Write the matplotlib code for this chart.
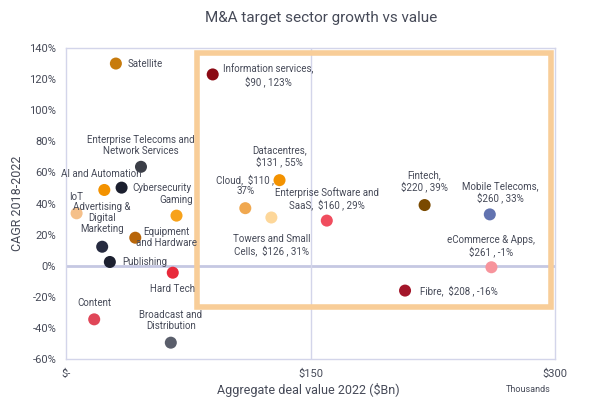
import matplotlib.pyplot as plt
from matplotlib.patches import Rectangle

plt.rcParams['font.family'] = ['Roboto', 'DejaVu Sans']

# sector data: aggregate deal value 2022 ($Bn) and CAGR 2018-2022 (%)
sectors = ['Satellite', 'Information services', 'Enterprise Telecoms',
           'AI and Automation', 'Cybersecurity', 'IoT', 'Gaming',
           'Advertising', 'Equipment', 'Publishing', 'Hard Tech', 'Content',
           'Broadcast', 'Datacentres', 'Cloud', 'Enterprise Software',
           'Towers', 'Fintech', 'Mobile Telecoms', 'eCommerce', 'Fibre']
value = [30.6, 90, 46, 23.5, 34.1, 6.5, 67.8, 22.2, 42.5, 26.9, 65.5, 17.3,
         64.3, 131, 110, 160, 126, 220, 260, 261, 208]
cagr = [130, 123, 63.6, 48.7, 50.2, 33.7, 32.2, 12.2, 18, 2.4, -4.5, -34.5,
        -49.5, 55, 37, 29, 31, 39, 33, -1, -16]
labels = ['Satellite', 'Information services,\n$90 , 123%',
          'Enterprise Telecoms and\nNetwork Services', 'AI and Automation',
          'Cybersecurity', 'IoT', 'Gaming', 'Advertising &\nDigital\nMarketing',
          'Equipment\nand Hardware', 'Publishing', 'Hard Tech', 'Content',
          'Broadcast and\nDistribution', 'Datacentres,\n$131 , 55%',
          'Cloud,  $110 ,\n37%', 'Enterprise Software and\nSaaS,  $160 , 29%',
          'Towers and Small\nCells,  $126 , 31%', 'Fintech,\n$220 , 39%',
          'Mobile Telecoms,\n$260 , 33%', 'eCommerce & Apps,\n$261 , -1%',
          'Fibre,  $208 , -16%']
colors = ['#c77b0d', '#8b0a14', '#3b3e47', '#f39200', '#1b1f2e', '#f5c08a',
          '#f7a21b', '#262b40', '#b8660a', '#1c2030', '#e8293a', '#e04658',
          '#5a5e6b', '#f39200', '#f0a850', '#f04d5e', '#fdd79a', '#7a4a00',
          '#6273b0', '#f7949c', '#a3162a']
# label offsets in pixels and alignment
offsets = [(12, 0, 'left'), (56, -1, 'center'), (0, 21, 'center'),
           (-3, 16, 'center'), (11, 0, 'left'), (0, 16, 'center'),
           (0, 16, 'center'), (0, 29, 'center'), (31, 0, 'center'),
           (12, 0, 'left'), (0, -16, 'center'), (0, 16, 'center'),
           (0, 22, 'center'), (0, 24, 'center'), (0, 23, 'center'),
           (0, 22, 'center'), (0, -28, 'center'), (0, 24, 'center'),
           (11, 22, 'center'), (0, 21, 'center'), (15, 0, 'left')]

fig = plt.figure(figsize=(6, 4.09), dpi=100)
ax = fig.add_axes([66 / 600, 1 - 359 / 409, 489 / 600, 311 / 409])

text_col = '#464a58'
line_col = '#d3d5ea'
ax.axhline(0, color='#c5c8e2', lw=2, zorder=1)
ax.axvline(150, color=line_col, lw=1, zorder=1)

ax.scatter(value, cagr, s=75, c=colors, zorder=3, linewidths=0)
for x, y, lab, (dx, dy, ha) in zip(value, cagr, labels, offsets):
    ax.annotate(lab, (x, y), xytext=(dx, dy), textcoords='offset pixels',
                ha=ha, va='center', fontsize=7.0, color=text_col,
                linespacing=1.15, zorder=4)

# highlight box
ax.add_patch(Rectangle((0.268, 0.167), 0.724, 0.817, transform=ax.transAxes,
                       fill=False, edgecolor='#f8cd98', lw=4, zorder=2,
                       clip_on=False))

ax.set_xlim(0, 300)
ax.set_ylim(-60, 140)
ax.set_xticks([0, 150, 300])
ax.set_xticklabels(['$-', '$150', '$300'])
ax.set_yticks(range(-60, 141, 20))
ax.set_yticklabels([f'{v}%' for v in range(-60, 141, 20)])
ax.tick_params(length=0, labelsize=8, labelcolor=text_col, pad=7)
for sp in ax.spines.values():
    sp.set_color(line_col)
    sp.set_linewidth(1)

ax.set_ylabel('CAGR 2018-2022', fontsize=9, color=text_col, labelpad=4)
fig.text(308 / 600, 1 - 390 / 409, 'Aggregate deal value 2022 ($Bn)',
         ha='center', va='center', fontsize=9, color=text_col)
fig.text(528 / 600, 1 - 389 / 409, 'Thousands', ha='center', va='center',
         fontsize=6.5, color=text_col)
fig.text(321 / 600, 1 - 18 / 409, 'M&A target sector growth vs value',
         ha='center', va='center', fontsize=11, color=text_col)

fig.savefig('out.png', dpi=100)
